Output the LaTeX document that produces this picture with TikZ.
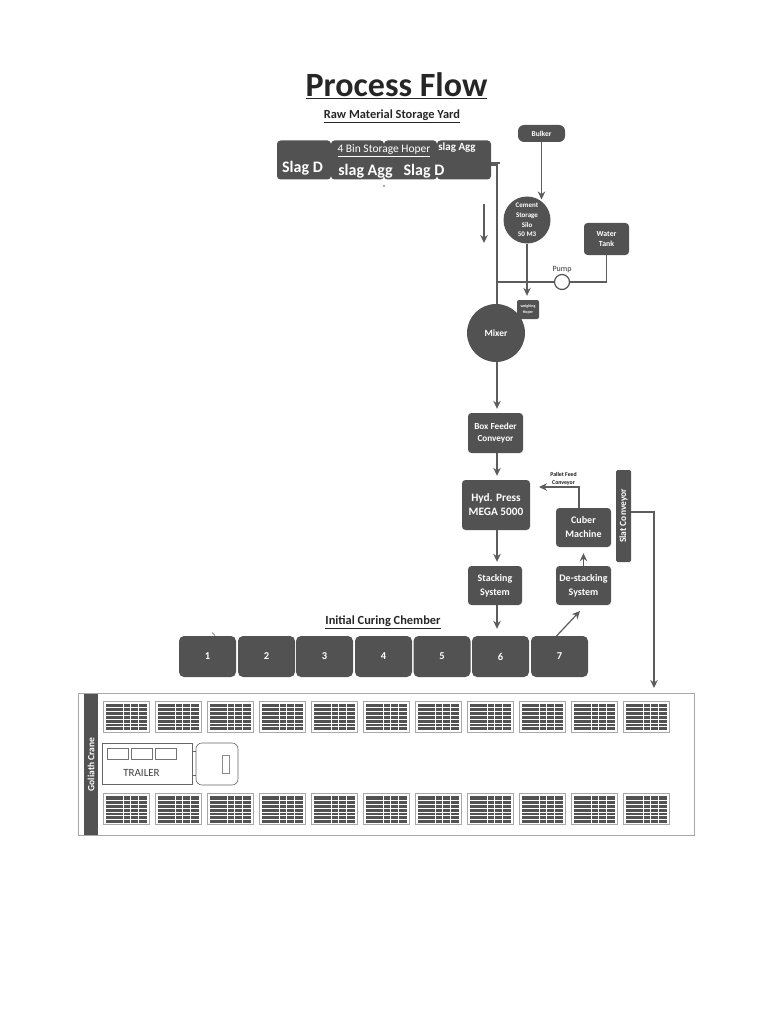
\documentclass[tikz,border=0pt]{standalone}
\usepackage{xcolor}
\usepackage{fontspec}
\setmainfont{Carlito}
\usetikzlibrary{shapes,arrows.meta,positioning}
\definecolor{boxgray}{gray}{0.32}
\definecolor{linegray}{gray}{0.36}
\definecolor{framegray}{gray}{0.66}
\tikzset{
    unit/.style={fill=boxgray,rounded corners=3.5pt,text=white,font=\bfseries\fontsize{9.2}{12}\selectfont,align=center,inner sep=0pt},
    tank/.style={circle,fill=boxgray,text=white,font=\bfseries\fontsize{8}{10.5}\selectfont,align=center,inner sep=0pt},
    flow/.style={-{Stealth[length=8pt,width=7.5pt]},line width=1.2pt,draw=linegray,shorten >=4pt},
    pipe/.style={line width=1.2pt,draw=linegray},
    outline/.style={draw=framegray,line width=1pt},
    heading/.style={font=\bfseries\fontsize{12.4}{14}\selectfont,text=black!85,inner sep=0pt},
    pallet/.pic={
        \draw[outline,fill=white] (-23,-15.5) rectangle (23,15.5);
        \fill[boxgray] (-20.5,-13) rectangle (20.5,13.5);
        \foreach \rowy in {-9,-5,-1,3,6.5,10}
            \draw[white,line width=0.6pt] (-20.5,\rowy) -- (20.5,\rowy);
        \foreach \colx in {-3,4,12}
            \draw[white,line width=0.4pt] (\colx,-13) -- (\colx,13.5);
    }
}

\begin{document}
\begin{tikzpicture}[x=1pt,y=-1pt]
    \useasboundingbox (0,0) rectangle (768,1024);

    % Titles
    \node[font=\bfseries\fontsize{34}{40}\selectfont,text=black!85,inner sep=0pt] (title) at (396.5,85.5) {\underline{Process Flow}};
    \node[heading] (yard) at (392,116.5) {\underline{Raw Material Storage Yard}};

    % Storage bins
    \node[unit,minimum width=54,minimum height=39] (bin1) at (304,160) {};
    \node[unit,minimum width=53,minimum height=39] (bin2) at (357.5,160) {};
    \node[unit,minimum width=53,minimum height=39] (bin3) at (410.5,160) {};
    \node[unit,minimum width=54,minimum height=39] (bin4) at (464,160) {};
    \node[text=white,font=\fontsize{11.5}{13}\selectfont,inner sep=0pt] (hoper) at (384,151) {\underline{4 Bin Storage Hoper}};
    \node[text=white,font=\bfseries\fontsize{16}{18}\selectfont,inner sep=0pt] (slag1) at (302.5,168.5) {Slag D};
    \node[text=white,font=\bfseries\fontsize{16}{18}\selectfont,inner sep=0pt] (slag2) at (365.5,171) {slag Agg};
    \node[text=white,font=\bfseries\fontsize{16}{18}\selectfont,inner sep=0pt] (slag3) at (424,171) {Slag D};
    \node[text=white,font=\bfseries\fontsize{11}{13}\selectfont,inner sep=0pt] (slag4) at (457,147.5) {slag Agg};
    \fill[boxgray] (384,186) circle (0.8);

    % Cement and water
    \node[unit,rounded corners=6pt,minimum width=47,minimum height=17,font=\bfseries\fontsize{7.5}{9}\selectfont] (bulker) at (541.5,133.5) {Bulker};
    \node[tank,minimum size=47,font=\bfseries\fontsize{7}{9.7}\selectfont] (silo) at (527,220) {Cement\\Storage\\Silo\\50 M3};
    \node[unit,minimum width=45,minimum height=32,font=\bfseries\fontsize{7.8}{10.5}\selectfont] (water) at (606.5,239) {Water\\Tank};
    \node[circle,draw=boxgray,line width=1.2pt,fill=white,minimum size=15,inner sep=0pt] (pump) at (562,282) {};
    \node[font=\fontsize{8}{9}\selectfont,text=black!80,inner sep=0pt] (pumplabel) at (562,269.5) {Pump};
    \node[tank,minimum size=58,font=\bfseries\fontsize{9.5}{11}\selectfont] (mixer) at (496,333) {Mixer};
    \node[unit,minimum width=22,minimum height=19,rounded corners=2pt,font=\bfseries\fontsize{4}{5.5}\selectfont] (weigh) at (528,309.5) {weighing\\Hoper};

    % Press line
    \node[unit,minimum width=55,minimum height=40] (feeder) at (495.5,433) {Box Feeder\\Conveyor};
    \node[unit,minimum width=68,minimum height=50,font=\bfseries\fontsize{11.3}{14}\selectfont] (press) at (496,505) {Hyd. Press\\MEGA 5000};
    \node[unit,minimum width=54,minimum height=39,font=\bfseries\fontsize{10}{14}\selectfont] (stacking) at (495,585.5) {Stacking\\System};
    \node[unit,minimum width=55,minimum height=39,font=\bfseries\fontsize{10}{14}\selectfont] (destack) at (583.5,585.5) {De-stacking\\System};
    \node[unit,minimum width=55,minimum height=39,font=\bfseries\fontsize{10}{14}\selectfont] (cuber) at (583.5,527.5) {Cuber\\Machine};
    \node[unit,rotate=90,rounded corners=1.5pt,minimum width=92,minimum height=15,font=\bfseries\fontsize{9.5}{11}\selectfont] (slat) at (623.5,516) {Slat Conveyor};
    \node[font=\bfseries\fontsize{5.8}{7.5}\selectfont,align=center,text=black!90,inner sep=0pt] (feedlabel) at (563.5,479) {Pallet Feed\\Conveyor};

    % Curing chambers
    \node[heading] (curing) at (383,622.5) {\underline{Initial Curing Chember}};
    \foreach \cure/\curex in {1/207.5,2/266.5,3/324.5,4/383.5,5/442,6/500.5,7/559.5}
        \node[unit,minimum width=57,minimum height=41,rounded corners=5pt,font=\bfseries\fontsize{10.5}{12}\selectfont] (cure\cure) at (\curex,656.5) {\cure};
    \draw[boxgray,line width=0.7pt] (212,632.5) -- (215,635.5);

    % Connector ends
    \coordinate (trunk) at (497,165);
    \coordinate (stub) at (500,163);
    \coordinate (pumpjoin) at (496,282);
    \coordinate (downtop) at (484,204);
    \coordinate (downend) at (484,243);
    \coordinate (feedturn) at (579,487);
    \coordinate (feedend) at (539,487);
    \coordinate (slatturn) at (654,512);
    \coordinate (slatend) at (654,688);
    \coordinate (curetop) at (556.5,636);
    \coordinate (destackin) at (580,611);

    % Connectors
    \draw[pipe] (bin4.east |- stub) -- (stub);
    \draw[pipe] (bin4.east |- trunk) -- (trunk) -- (mixer.north -| trunk);
    \draw[flow,shorten >=0pt] (downtop) -- (downend);
    \draw[flow,shorten >=0pt] (bulker.south) -- (bulker.south |- silo.60);
    \draw[flow] (silo.south) -- (weigh.north -| silo.south);
    \draw[pipe] (pump.west) -- (pumpjoin);
    \draw[pipe] (water.south) |- (pump.east);
    \draw[flow] (mixer.south -| trunk) -- (feeder.north -| trunk);
    \draw[flow] (feeder.south -| trunk) -- (press.north -| trunk);
    \draw[flow] (press.south -| trunk) -- (stacking.north -| trunk);
    \draw[flow,shorten >=7pt] (stacking.south -| trunk) -- (cure6.north -| trunk);
    \draw[flow,shorten >=0pt] (curetop) -- (destackin);
    \draw[flow,shorten >=6pt] (destack.north) -- (cuber.south);
    \draw[flow,shorten >=0pt] (cuber.north -| feedturn) -- (feedturn) -- (feedend);
    \draw[flow,shorten >=0pt] (slat.south |- slatturn) -- (slatturn) -- (slatend);

    % Yard
    \draw[outline] (78,693) rectangle (694,835);
    \node[unit,rotate=90,rounded corners=0pt,minimum width=141,minimum height=14,font=\bfseries\fontsize{9.5}{11}\selectfont] (crane) at (91,764.5) {Goliath Crane};
    \foreach \palx in {126,178,230,282,334,386,438,490,542,594,646} {
        \pic at (\palx,716.5) {pallet};
        \pic at (\palx,809) {pallet};
    }

    % Trailer
    \node[draw=black!60,line width=0.6pt,minimum width=90,minimum height=41,inner sep=0pt] (trailer) at (147,763.5) {};
    \node[draw=black!60,line width=0.6pt,rounded corners=6pt,minimum width=42,minimum height=42,inner sep=0pt] (cab) at (217,764) {};
    \node[draw=black!45,line width=0.6pt,minimum width=7,minimum height=18,inner sep=0pt] (window) at (225.5,764) {};
    \foreach \crate/\cratex in {1/117.5,2/141.5,3/165.5}
        \node[draw=black!55,line width=0.6pt,minimum width=21,minimum height=11,inner sep=0pt] (crate\crate) at (\cratex,753.5) {};
    \node[font=\fontsize{11}{12}\selectfont,text=black!75,inner sep=0pt] (trailerlabel) at (141.5,772.5) {TRAILER};
    \draw[black!60,line width=0.6pt] (trailer.east |- 0,751) -- (cab.west |- 0,751);
    \draw[black!60,line width=0.6pt] (trailer.east |- 0,775) -- (cab.west |- 0,775);
\end{tikzpicture}
\end{document}
